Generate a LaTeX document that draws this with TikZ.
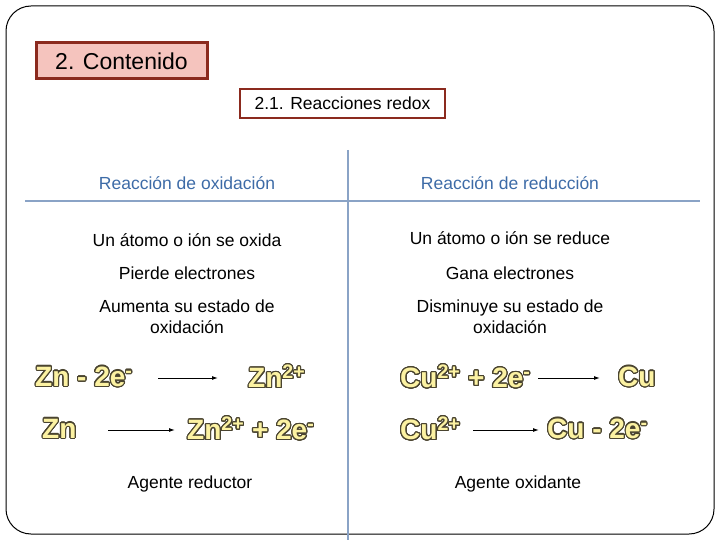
\documentclass[tikz,border=0pt]{standalone}
\usepackage{fontspec}
\setmainfont{Liberation Sans}
\usepackage{contour}
\contourlength{1.1pt}
\contournumber{32}
\definecolor{frame}{HTML}{8B2A1E}
\definecolor{pinkf}{HTML}{F5C4BE}
\definecolor{bluet}{HTML}{3D6BA7}
\definecolor{linec}{HTML}{8AA3C6}
\definecolor{yel}{HTML}{FCF2A2}
\definecolor{outc}{HTML}{4A4430}
\newcommand{\chemtxt}[1]{\contour{outc}{\textcolor{yel}{#1}}}
\begin{document}
\begin{tikzpicture}[x=1pt,y=-1pt,
  body/.style={font=\fontsize{17.5}{21}\selectfont, align=center},
  head/.style={body, text=bluet},
  eq/.style={font=\fontsize{28}{32}\bfseries\selectfont, inner sep=0pt},
  arr/.style={-{Latex[length=6pt,width=4pt]}, line width=1pt},
  sep/.style={linec, line width=2pt}]
\usetikzlibrary{arrows.meta}
\useasboundingbox (0,0) rectangle (720,540);
\draw[line width=1pt, rounded corners=25pt] (6,6) rectangle (714,534);
\node[draw=frame, fill=pinkf, line width=3pt, minimum width=171pt, minimum height=36pt, font=\fontsize{23}{26}\selectfont] (cont) at (121.5,61) {2. Contenido};
\node[draw=frame, line width=2pt, minimum width=205pt, minimum height=29pt, font=\fontsize{17.5}{20}\selectfont] (redox) at (342.5,103.5) {2.1. Reacciones redox};
\coordinate (vt) at (348,150); \coordinate (vb) at (348,540);
\coordinate (hl) at (25,201); \coordinate (hr) at (700,201);
\draw[sep] (vt) -- (vb);
\draw[sep] (hl) -- (hr);
\node[head] (h1) at (187,183) {Reacción de oxidación};
\node[head] (h2) at (510,183) {Reacción de reducción};
\node[body] (a1) at (187,240) {Un átomo o ión se oxida};
\node[body] (a2) at (510,238) {Un átomo o ión se reduce};
\node[body] (b1) at (187,273) {Pierde electrones};
\node[body] (b2) at (510,273) {Gana electrones};
\node[body] (c1) at (187,317) {Aumenta su estado de\\oxidación};
\node[body] (c2) at (510,317) {Disminuye su estado de\\oxidación};
% equations
\node[eq, anchor=west] (z1) at (35,377) {\chemtxt{Zn - 2e\textsuperscript{-}}};
\node[eq, anchor=west] (z2) at (248,377) {\chemtxt{Zn\textsuperscript{2+}}};
\draw[arr] (158,378) -- (218,378);
\node[eq, anchor=west] (c3) at (400,377) {\chemtxt{Cu\textsuperscript{2+} + 2e\textsuperscript{-}}};
\node[eq, anchor=west] (c4) at (618,377) {\chemtxt{Cu}};
\draw[arr] (538,378) -- (600,378);
\node[eq, anchor=west] (z3) at (42,429) {\chemtxt{Zn}};
\node[eq, anchor=west] (z4) at (187,429) {\chemtxt{Zn\textsuperscript{2+} +\ 2e\textsuperscript{-}}};
\draw[arr] (108,430) -- (175,430);
\node[eq, anchor=west] (c5) at (400,429) {\chemtxt{Cu\textsuperscript{2+}}};
\node[eq, anchor=west] (c6) at (547,429) {\chemtxt{Cu -\ 2e\textsuperscript{-}}};
\draw[arr] (473,430) -- (539,430);
\node[body] (r1) at (190,484) {Agente reductor};
\node[body] (r2) at (518,484) {Agente oxidante};
\end{tikzpicture}
\end{document}
